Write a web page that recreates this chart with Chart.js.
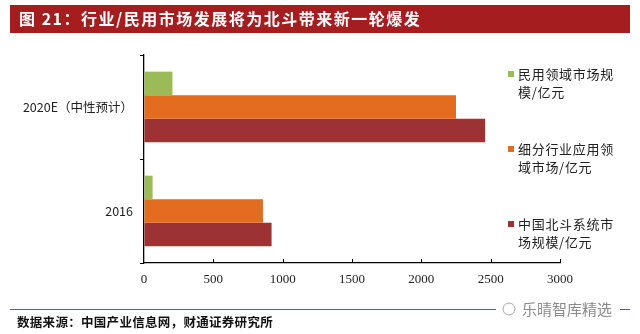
<!DOCTYPE html>
<html>
<head>
<meta charset="utf-8">
<script src="https://cdn.jsdelivr.net/npm/chart.js@4/dist/chart.umd.min.js"></script>
<style>
html, body { margin: 0; padding: 0; background: #fff; }
#wrap { position: relative; width: 640px; height: 334px; }
</style>
</head>
<body>
<div id="wrap"><canvas id="chart" width="640" height="334"></canvas></div>
<script>
// data (亿元)
var categories = ['2020E（中性预计）', '2016']
var seriesNames = ['民用领域市场规模/亿元', '细分行业应用领域市场/亿元', '中国北斗系统市场规模/亿元']
var civilValues = [205, 62]
var industryValues = [2250, 858]
var totalValues = [2460, 920]
var xTicks = [0, 500, 1000, 1500, 2000, 2500, 3000]
var barColors = ['#9bbb59', '#e46c1e', '#9c3234']

var titleText = '图 21：行业/民用市场发展将为北斗带来新一轮爆发'
var sourceText = '数据来源：中国产业信息网，财通证券研究所'
var cjk = '"Noto Sans CJK SC", "Noto Sans", sans-serif'

// title bar, source line, legend and inside ticks
var decor = {
  id: 'decor',
  beforeDraw: function(chart) {
    var ctx = chart.ctx
    ctx.save()
    ctx.fillStyle = '#a51d1e'
    ctx.fillRect(10, 5, 620, 28)
    ctx.fillStyle = '#fff'
    ctx.font = 'bold 16px ' + cjk
    ctx.letterSpacing = '1.5px'
    ctx.textBaseline = 'middle'
    ctx.fillText(titleText, 19, 19)
    ctx.restore()
  },
  afterDraw: function(chart) {
    var ctx = chart.ctx
    var xs = chart.scales.x
    ctx.save()
    // x ticks pointing up into the plot
    ctx.strokeStyle = '#000'
    ctx.lineWidth = 1
    xTicks.forEach(function(v) {
      if (v == 0) return
      var px = Math.round(xs.getPixelForValue(v)) + 0.5
      ctx.beginPath()
      ctx.moveTo(px, xs.top)
      ctx.lineTo(px, xs.top - 4)
      ctx.stroke()
    })

    // legend on the right, two lines per entry
    var legendY = [74, 149, 224]
    ctx.font = '13px ' + cjk
    ctx.letterSpacing = '0.7px'
    ctx.textBaseline = 'middle'
    chart.data.datasets.forEach(function(ds, i) {
      var y = legendY[i]
      ctx.fillStyle = ds.backgroundColor
      ctx.fillRect(508, y - 3, 6, 6)
      ctx.fillStyle = '#222'
      ctx.fillText(ds.label.slice(0, 7), 518, y)
      ctx.fillText(ds.label.slice(7), 518, y + 18)
    })

    // bottom rule + source
    ctx.strokeStyle = '#a3473f'
    ctx.lineWidth = 1.2
    ctx.beginPath()
    ctx.moveTo(10, 309.5)
    ctx.lineTo(630, 309.5)
    ctx.stroke()
    ctx.fillStyle = '#111'
    ctx.font = 'bold 12.5px ' + cjk
    ctx.letterSpacing = '0.3px'
    ctx.fillText(sourceText, 17, 322)

    // watermark
    ctx.fillStyle = '#fff'
    ctx.fillRect(496, 300, 124, 19)
    ctx.strokeStyle = '#aaa'
    ctx.lineWidth = 1
    ctx.beginPath()
    ctx.arc(509, 309, 6, 0, Math.PI * 2)
    ctx.stroke()
    ctx.fillStyle = '#8a8a8a'
    ctx.font = '15px ' + cjk
    ctx.letterSpacing = '0px'
    ctx.fillText('乐晴智库精选', 522, 309)
    ctx.restore()
  }
}

var chart = new Chart(document.getElementById('chart'), {
  type: 'bar',
  data: {
    labels: categories,
    datasets: [
      { label: seriesNames[0], data: civilValues, backgroundColor: barColors[0] },
      { label: seriesNames[1], data: industryValues, backgroundColor: barColors[1] },
      { label: seriesNames[2], data: totalValues, backgroundColor: barColors[2] }
    ]
  },
  options: {
    indexAxis: 'y',
    responsive: false,
    animation: false,
    categoryPercentage: 0.68,
    barPercentage: 1.0,
    layout: { padding: { left: 10, right: 80, top: 55, bottom: 41 } },
    plugins: { legend: { display: false }, tooltip: { enabled: false } },
    scales: {
      x: {
        min: 0,
        max: 3000,
        afterBuildTicks: function(s) { s.ticks = xTicks.map(function(v) { return { value: v } }) },
        afterFit: function(s) { s.height = 30 },
        grid: { drawOnChartArea: false, drawTicks: false },
        border: { color: '#000', width: 1.3 },
        ticks: {
          padding: 9, color: '#222',
          font: { family: '"Liberation Serif", serif', size: 13 },
          callback: function(v) { return String(v) }
        }
      },
      y: {
        afterFit: function(s) { s.width = 134 },
        grid: { drawOnChartArea: false, tickLength: 4, color: '#000', offset: true },
        border: { color: '#000', width: 1.3 },
        ticks: { padding: 7, color: '#222', font: { family: cjk, size: 12.5 } }
      }
    }
  },
  plugins: [decor]
})
</script>
</body>
</html>
